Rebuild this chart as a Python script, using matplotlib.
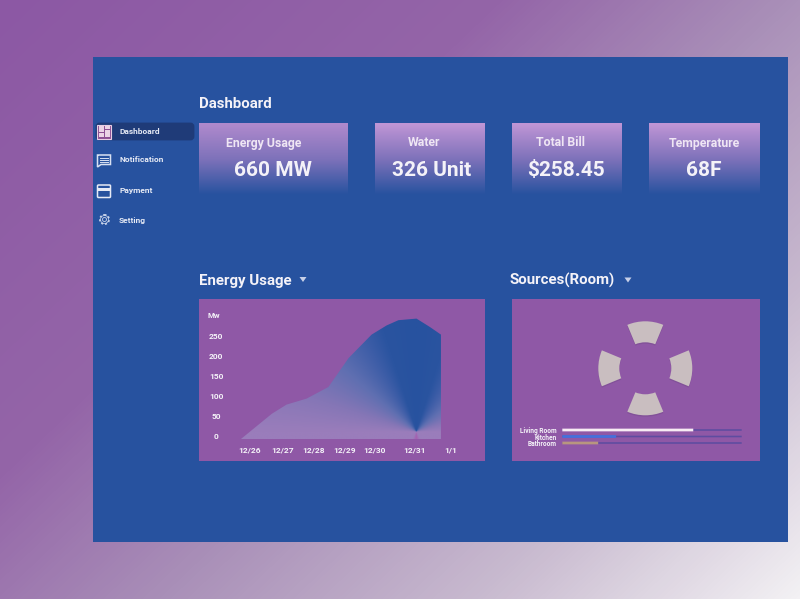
import numpy as np
import matplotlib
matplotlib.use("Agg")
import matplotlib.pyplot as plt
from matplotlib.colors import LinearSegmentedColormap
from matplotlib.patches import Rectangle, FancyBboxPatch, Polygon, Circle, PathPatch
from matplotlib.path import Path
from matplotlib.transforms import ScaledTranslation
import matplotlib.patheffects as pe

FONT = ["Roboto", "DejaVu Sans"]
plt.rcParams["font.family"] = FONT

# ---- data ----
days = [-0.27, 0.65, 1.09, 1.69, 2.34, 2.94, 3.63, 4.08, 4.43, 4.97, 5.37, 5.70]
usage = [0, 63, 86, 101, 130, 202, 261, 284, 297, 301, 280, 261]
x_tick_pos = [0, 0.985, 1.91, 2.81, 3.73, 4.9, 6.0]
x_tick_labels = ["12/26", "12/27", "12/28", "12/29", "12/30", "12/31", "1/1"]
y_ticks = [0, 50, 100, 150, 200, 250]

rooms = ["Living Room", "Kitchen", "Bathroom"]
room_share = [73, 30, 20]
room_colors = ["#F8ECF4", "#4570DC", "#B8967F"]

donut_parts = [45, 45, 45, 45, 45, 45, 45, 45]

card_titles = ["Energy Usage", "Water", "Total Bill", "Temperature"]
card_values = ["660 MW", "326 Unit", "$258.45", "68F"]
card_title_x = [264, 424, 560, 704]
card_value_x = [273, 432, 566, 704]
card_boxes = [(199, 348), (375, 485), (512, 622), (649, 760)]
card_tops = ["#B08ACD", "#C096D6", "#C096D6", "#C096D6"]

nav_items = ["Dashboard", "Notification", "Payment", "Setting"]
nav_y = [132, 160, 191, 220]

# ---- figure and page layer (pixel coordinates) ----
W, H = 800, 599
fig = plt.figure(figsize=(8, 5.99), dpi=100)
page = fig.add_axes([0, 0, 1, 1], zorder=0)
page.set_xlim(0, W); page.set_ylim(H, 0); page.axis("off")

def pax(l, t, r, b, **kw):
    return fig.add_axes([l / W, 1 - b / H, (r - l) / W, (b - t) / H], **kw)

bg_cmap = LinearSegmentedColormap.from_list("bg", [
    (0.0, "#8C58A4"), (0.35, "#9465A8"), (0.55, "#A98FB8"),
    (0.78, "#C9BBD0"), (1.0, "#F3F1F4")])
yy, xx = np.mgrid[0:H, 0:W]
t = (xx / W) * 0.56 + (yy / H) * 0.44
page.imshow(t, cmap=bg_cmap, vmin=0, vmax=1, extent=(0, W, H, 0), aspect="auto", zorder=0)
page.add_patch(Rectangle((93, 57), 695, 485, fc="#27529F", ec="none", zorder=1))

WHITE = "#F4F2F8"

# titles
page.text(199, 104, "Dashboard", color=WHITE, fontsize=10.8, fontweight="bold", va="center", zorder=5)
page.text(199, 280.5, "Energy Usage", color=WHITE, fontsize=10.8, fontweight="bold", va="center", zorder=5)
page.text(510, 280.5, "Sources(Room)", color=WHITE, fontsize=10.8, fontweight="bold", va="center", zorder=5)
for cx, cy in [(303, 279.5), (628, 280)]:
    page.add_patch(Polygon([(cx - 3.5, cy - 2.5), (cx + 3.5, cy - 2.5), (cx, cy + 2.5)],
                           fc="#C8D0E8", ec="none", zorder=5))

# cards
grad = np.linspace(0, 1, 80).reshape(-1, 1)
for (l, r), ttl, val, tx, vx, top in zip(card_boxes, card_titles, card_values,
                                         card_title_x, card_value_x, card_tops):
    card_cmap = LinearSegmentedColormap.from_list("card", [top, "#7E72BA", "#27529F"])
    page.imshow(grad, cmap=card_cmap, extent=(l, r, 195, 123), aspect="auto", zorder=2)
    page.text(tx, 143, ttl, color="#EFE6F4", fontsize=8.8, fontweight="bold", ha="center", va="center", zorder=5)
    page.text(vx, 170.5, val, color=WHITE, fontsize=15, fontweight="bold", ha="center", va="center", zorder=5)
page.set_xlim(0, W); page.set_ylim(H, 0)

# sidebar
page.add_patch(FancyBboxPatch((97, 124), 96, 15, boxstyle="round,pad=0,rounding_size=2.5",
                              fc="#1F3B78", ec="#1F3B78", lw=2, zorder=2))
for label, y in zip(nav_items, nav_y):
    page.text(119, y, label, color="#E6EAF5", fontsize=6, fontweight="bold", va="center", zorder=5)
# dashboard icon
page.add_patch(Rectangle((97, 124.5), 14, 14, fc="#8C4F93", ec="#E8CDE4", lw=0.8, zorder=3))
for x0, y0, w, h in [(98.5, 126, 5, 6), (104.5, 126, 5, 3), (98.5, 133, 5, 4), (104.5, 130, 5, 7)]:
    page.add_patch(Rectangle((x0, y0), w, h, fc="#EBD3E6", ec="none", zorder=4))
# notification icon
bubble = Path([(98, 155), (110.5, 155), (110.5, 164.5), (101, 164.5), (97.5, 167), (97.5, 155), (98, 155)])
page.add_patch(PathPatch(bubble, fc="none", ec="#D9E1F2", lw=1.1, zorder=4))
for y in (158, 160, 162):
    page.plot([100, 108], [y, y], color="#D9E1F2", lw=0.7, zorder=4)
# payment icon
page.add_patch(FancyBboxPatch((97.5, 185), 13, 12.5, boxstyle="round,pad=0,rounding_size=1",
                              fc="none", ec="#E6EAF5", lw=1.1, zorder=4))
page.add_patch(Rectangle((97.5, 188), 13, 2.5, fc="#E6EAF5", ec="none", zorder=4))
# gear icon
page.add_patch(Circle((104.5, 219.5), 4.6, fc="none", ec="#C9D4EA", lw=1.3, ls=(0, (1.1, 1.1)), zorder=4))
page.add_patch(Circle((104.5, 219.5), 4.0, fc="none", ec="#C9D4EA", lw=0.5, zorder=4))
page.add_patch(Circle((104.5, 219.5), 2.0, fc="none", ec="#C9D4EA", lw=0.6, zorder=4))

# panels
PANEL = "#8F58A6"
page.add_patch(Rectangle((199, 299), 286, 162, fc=PANEL, ec="none", zorder=2))
page.add_patch(Rectangle((512, 299), 248, 162, fc=PANEL, ec="none", zorder=2))

# ---- area chart ----
PX_DAY, PX_UNIT = 33.5, 0.4
a_l, a_r, a_t, a_b = 228, 470, 305, 439
ax = pax(a_l, a_t, a_r, a_b, zorder=2)
ax.patch.set_alpha(0)
ax.set_xlim((a_l - 250) / PX_DAY, (a_r - 250) / PX_DAY)
ax.set_ylim(0, (a_b - a_t) / PX_UNIT)
for s in ax.spines.values():
    s.set_visible(False)
ax.set_xticks(x_tick_pos, x_tick_labels)
ax.set_yticks(y_ticks)
ax.tick_params(length=0, colors=WHITE)
ax.tick_params(axis="y", pad=8.6, labelsize=6)
ax.tick_params(axis="x", pad=5.2, labelsize=6)
for lab in ax.get_yticklabels():
    lab.set_ha("center"); lab.set_fontweight("bold")
    lab.set_transform(lab.get_transform() + ScaledTranslation(0, 3 / 100, fig.dpi_scale_trans))
for lab in ax.get_xticklabels():
    lab.set_fontweight("bold")

cx, cy = 4.97, 18.0
xs = np.linspace(ax.get_xlim()[0], ax.get_xlim()[1], 500)
ys = np.linspace(0, ax.get_ylim()[1], 400)
gx, gy = np.meshgrid(xs, ys)
ang = np.abs(np.arctan2((gx - cx) * PX_DAY, (gy - cy) * PX_UNIT)) / np.pi
area_cmap = LinearSegmentedColormap.from_list("area", [
    (0.0, "#27529F"), (0.10, "#2A54A0"), (0.16, "#3D5DA7"), (0.27, "#5F6FB1"),
    (0.40, "#8576B6"), (0.5, "#9A7DBB"), (0.85, "#9A7DBB"), (1.0, "#A45FB0")])
im = ax.imshow(ang, cmap=area_cmap, vmin=0, vmax=1, origin="lower", aspect="auto",
               extent=(xs[0], xs[-1], ys[0], ys[-1]), zorder=1)
poly = Polygon(np.column_stack([days + [days[-1]], usage + [0]]), closed=True,
               transform=ax.transData, fc="none", ec="none")
ax.add_patch(poly)
im.set_clip_path(poly)
ax.set_xlim((a_l - 250) / PX_DAY, (a_r - 250) / PX_DAY)
ax.set_ylim(0, (a_b - a_t) / PX_UNIT)
page.text(214, 316, "Mw", color=WHITE, fontsize=5.6, fontweight="bold", ha="center", va="center", zorder=5)

# ---- donut ----
R = 47
dc_x, dc_y = 645.3, 368.3
dax = pax(dc_x - 50, dc_y - 50, dc_x + 50, dc_y + 50, zorder=3)
wedges, _ = dax.pie(donut_parts, startangle=67.5, counterclock=True, radius=1,
                    wedgeprops=dict(width=21 / R, linewidth=0))
for i, w in enumerate(wedges):
    if i % 2 == 0:
        w.set_facecolor("#C9BEC0")
        w.set_path_effects([pe.SimplePatchShadow(offset=(0, -1.0), alpha=0.15, shadow_rgbFace="#3A2A50"),
                            pe.Normal()])
    else:
        w.set_visible(False)
dax.set_xlim(-50 / R, 50 / R); dax.set_ylim(-50 / R, 50 / R)
dax.set_aspect("equal")

# ---- room bars ----
bax = pax(562.3, 426.75, 741.7, 446.25, zorder=3)
bax.patch.set_alpha(0)
pos = np.arange(len(rooms))
tracks = bax.barh(pos, [100] * len(rooms), height=0.25, color="#5E4CA0", lw=0)
fills = bax.barh(pos, room_share, height=0.42, color=room_colors, lw=0)
for bar in list(tracks) + list(fills):
    bar.set_snap(False)
bax.set_xlim(0, 100); bax.set_ylim(2.5, -0.5)
bax.set_xticks([])
bax.set_yticks(pos, rooms)
bax.tick_params(axis="y", length=0, pad=4.2, labelsize=4.7, colors=WHITE)
for lab in bax.get_yticklabels():
    lab.set_fontweight("bold")
for s in bax.spines.values():
    s.set_visible(False)

fig.savefig("out.png", dpi=100)
